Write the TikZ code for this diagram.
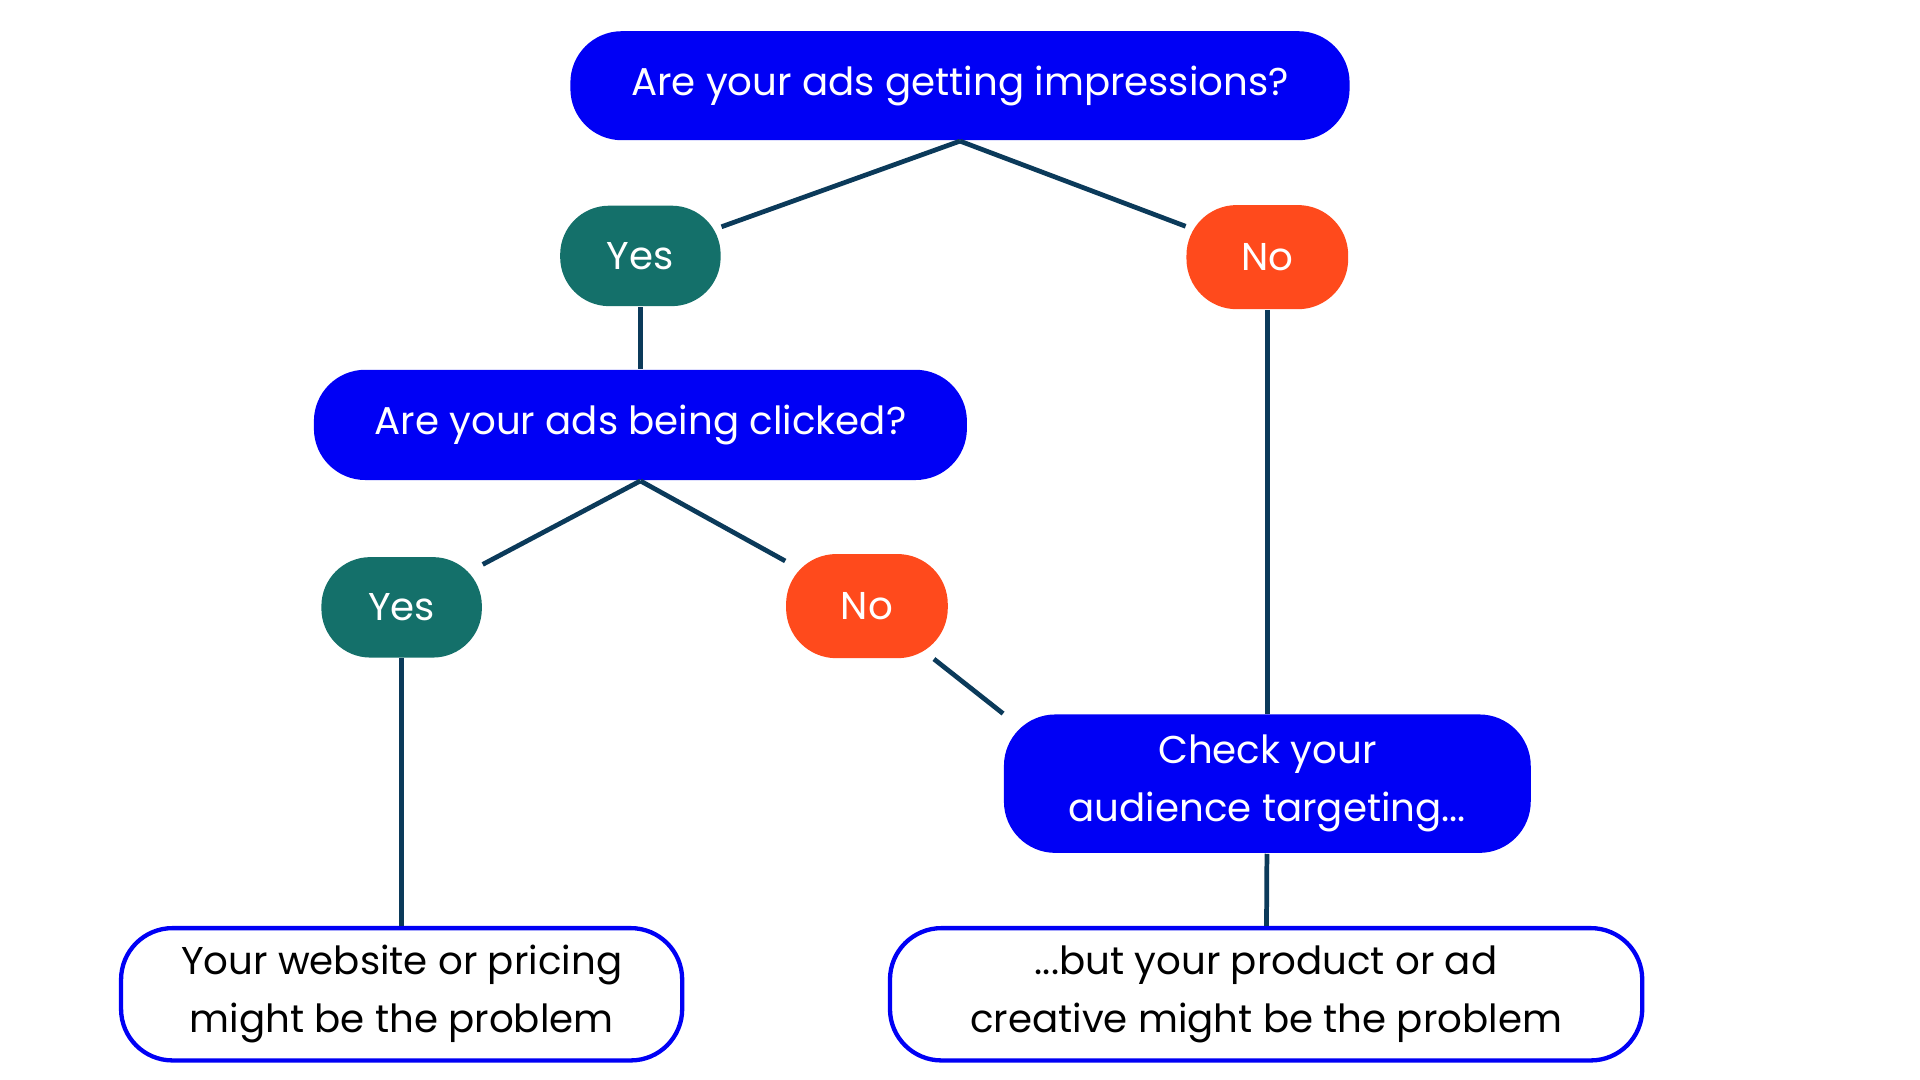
\documentclass[tikz,border=0pt]{standalone}
\usepackage{fontspec}
\setmainfont{Poppins}
\begin{document}
\begin{tikzpicture}[x=0.01cm,y=-0.01cm,
  box/.style={rounded corners=0.42cm,inner sep=0pt,align=center,font=\fontsize{9}{13.5}\selectfont},
  q/.style={box,fill=qblue,text=white},
  yes/.style={box,fill=yteal,text=white,minimum width=1.31cm,minimum height=0.82cm,rounded corners=0.4cm},
  no/.style={box,fill=nred,text=white,minimum width=1.32cm,minimum height=0.85cm,rounded corners=0.41cm},
  res/.style={box,fill=white,draw=qblue,line width=1pt,text=black},
  link/.style={draw=lnk,line width=1.1pt}]
\definecolor{qblue}{HTML}{0000F5}
\definecolor{yteal}{HTML}{14706A}
\definecolor{nred}{HTML}{FF4A1C}
\definecolor{lnk}{HTML}{0B3A5A}
\useasboundingbox (0,0) rectangle (1568,882);
\node[q,minimum width=6.36cm,minimum height=0.89cm] (top) at (784,70) {Are your ads getting impressions?};
\node[yes] (y1) at (523,209) {Yes};
\node[no] (n1) at (1035,210) {No};
\node[q,minimum width=5.33cm,minimum height=0.90cm] (q2) at (523,347) {Are your ads being clicked?};
\node[yes] (y2) at (328,496) {Yes};
\node[no] (n2) at (708,495) {No};
\node[q,minimum width=4.30cm,minimum height=1.13cm] (chk) at (1035,640) {Check your\\audience targeting...};
\node[res,minimum width=4.58cm,minimum height=1.08cm] (r1) at (328,812) {Your website or pricing\\might be the problem};
\node[res,minimum width=6.14cm,minimum height=1.08cm] (r2) at (1034,812) {...but your product or ad\\creative might be the problem};
\draw[link] (top.south) -- (y1);
\draw[link] (top.south) -- (n1);
\draw[link] (y1) -- (q2);
\draw[link] (q2.south) -- (y2);
\draw[link] (q2.south) -- (n2);
\draw[link] (n2) -- (chk.north west);
\draw[link] (n1) -- (chk);
\draw[link] (chk) -- (r2);
\draw[link] (y2) -- (r1);
\end{tikzpicture}
\end{document}
